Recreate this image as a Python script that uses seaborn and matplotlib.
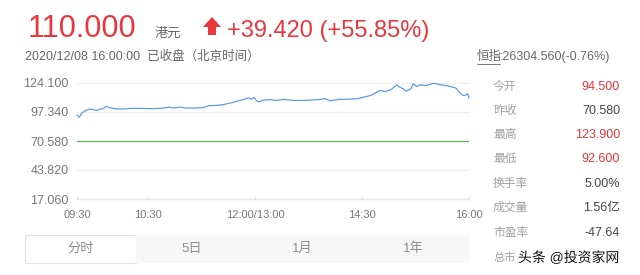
import matplotlib
matplotlib.use("Agg")
import matplotlib.pyplot as plt
import matplotlib.patheffects as pe
from matplotlib.patches import Rectangle, Polygon
import seaborn as sns
import pandas as pd

# ---------------- data ----------------
minutes = [0, 2, 4, 7, 10.5, 14, 17, 19.4, 22, 24.4, 27.8, 32, 39, 45, 53, 61, 70, 75, 78, 81,
           87, 91, 98, 106, 111, 118, 123, 129, 134, 140, 144, 147, 149, 151, 153, 157, 162,
           168, 174, 182, 193, 205, 209, 213, 221, 232, 236, 244, 248, 252, 255, 260, 265,
           269, 272, 275, 277, 281, 283, 286, 289, 294, 300, 305, 312, 319, 322, 325, 327,
           329, 330]
prices = [94.5, 92.6, 96.4, 98.6, 100.1, 99.5, 98.6, 100.1, 100.4, 102.5, 101.3, 100.4, 100.1,
          100.7, 100.7, 100.4, 100.7, 101.3, 101.9, 101.0, 101.9, 101.0, 101.0, 101.3, 103.1,
          103.5, 104.1, 105.6, 107.1, 108.7, 110.5, 109.3, 110.8, 108.0, 106.8, 108.3, 108.7,
          108.0, 109.0, 108.0, 108.0, 109.0, 109.6, 107.7, 109.0, 109.3, 109.6, 111.7, 112.9,
          115.4, 117.2, 116.3, 118.4, 122.4, 120.2, 118.4, 116.6, 118.7, 123.3, 120.9, 122.4,
          121.8, 123.9, 122.7, 121.5, 119.4, 115.4, 112.6, 112.9, 114.2, 110.0]
prev_close = 70.58
y_ticks = [17.06, 43.82, 70.58, 97.34, 124.10]
y_labels = ["17.060", "43.820", "70.580", "97.340", "124.100"]
x_ticks = [0, 60, 150, 240, 330]
x_labels = ["09:30", "10:30", "12:00/13:00", "14:30", "16:00"]

stat_names = ["今开", "昨收", "最高", "最低", "换手率", "成交量", "市盈率", "总市"]
stat_values = ["94.500", "70.580", "123.900", "92.600", "5.00%", "1.56亿", "-47.64", ""]
stat_red = [True, False, True, True, False, False, False, False]
tabs = ["分时", "5日", "1月", "1年"]

price_text = "110.000"
change_text = "+39.420 (+55.85%)"
time_text = "2020/12/08 16:00:00  已收盘（北京时间）"
index_label = "恒指"
index_text = ":26304.560(-0.76%)"
watermark = "头条 @投资家网"

# ---------------- style ----------------
sns.set_style("white")
FONT = ["Liberation Sans", "Noto Sans CJK SC", "DejaVu Sans"]
plt.rcParams["font.family"] = FONT

RED = "#e8363d"
GRAY = "#666666"
AXGRAY = "#777777"
LGRAY = "#a0a0a0"
W, H = 640, 275

fig = plt.figure(figsize=(6.4, 2.75), dpi=100)
fig.patch.set_facecolor("white")

def fx(px):
    return px / W

def fy(py):
    return 1 - py / H

# ---------------- chart ----------------
ax = fig.add_axes([fx(77), fy(199), 392 / W, 116 / H])
df = pd.DataFrame({"minute": minutes, "price": prices})
sns.lineplot(data=df, x="minute", y="price", ax=ax, color="#5c9de2", linewidth=0.9)
for l in ax.lines:
    l.set_clip_on(False)
ax.set_xlim(0, 330)
ax.set_ylim(y_ticks[0], y_ticks[-1])
for v in y_ticks:
    if v == prev_close:
        continue
    ax.axhline(v, color="#eeeeee", linewidth=0.9, zorder=0, clip_on=False)
ax.axhline(prev_close, color="#6cb36c", linewidth=1.0, zorder=1)
ax.axhline(y_ticks[0], color="#e6e6e6", linewidth=1.0, zorder=1, clip_on=False)
ax.set_yticks(y_ticks)
ax.set_yticklabels(y_labels, fontsize=9, color=AXGRAY)
ax.set_xticks(x_ticks)
ax.set_xticklabels(x_labels, fontsize=8, color=AXGRAY)
ax.tick_params(axis="y", length=0, pad=6)
ax.tick_params(axis="x", length=0, pad=8)
for s in ax.spines.values():
    s.set_visible(False)
ax.set_xlabel("")
ax.set_ylabel("")
ax.grid(False)
# small tick marks on bottom axis
for t in x_ticks:
    ax.plot([t, t], [y_ticks[0], y_ticks[0] + 1.8], color="#e0e0e0", linewidth=0.8, clip_on=False)

# ---------------- header ----------------
fig.text(fx(28), fy(37), price_text, fontsize=22, color=RED, va="baseline", ha="left")
fig.text(fx(155), fy(37), "港元", fontsize=9.5, color=GRAY, va="baseline", ha="left")
arrow = Polygon([(fx(212), fy(17)), (fx(203), fy(27)), (fx(208), fy(27)), (fx(208), fy(35)),
                 (fx(216), fy(35)), (fx(216), fy(27)), (fx(221), fy(27))],
                closed=True, transform=fig.transFigure, color=RED, lw=0)
fig.patches.append(arrow)
fig.text(fx(227), fy(37), change_text, fontsize=17, color=RED, va="baseline", ha="left")
fig.text(fx(25), fy(57), time_text, fontsize=9, color=GRAY, va="center", ha="left")

fig.text(fx(477), fy(57), index_label, fontsize=9, color=GRAY, va="center", ha="left")
fig.text(fx(500), fy(57), index_text, fontsize=9, color=GRAY, va="center", ha="left")
fig.add_artist(plt.Line2D([fx(477), fx(500)], [fy(64), fy(64)], color=GRAY, lw=0.6,
                          transform=fig.transFigure))

# ---------------- stats panel ----------------
rows_y = [87, 111, 135, 159, 184, 208, 233, 258]
for name, val, red, ry in zip(stat_names, stat_values, stat_red, rows_y):
    fig.text(fx(493), fy(ry), name, fontsize=8.5 if name != "总市" else 8, color=LGRAY,
             va="center", ha="left")
    if val:
        fig.text(fx(620), fy(ry), val, fontsize=9, color=RED if red else "#444444",
                 va="center", ha="right")

fig.text(fx(518), fy(258), watermark, fontsize=10, color="#111111", va="center", ha="left",
         path_effects=[pe.withStroke(linewidth=2.5, foreground="white")])

# ---------------- tabs ----------------
edges = [25, 136, 247, 358, 469]
for i, tab in enumerate(tabs):
    x0, x1 = edges[i], edges[i + 1]
    if i == 0:
        rect = Rectangle((fx(x0), fy(263)), (x1 - x0) / W, 28 / H, transform=fig.transFigure,
                         facecolor="white", edgecolor="#e2e2e2", lw=0.8)
    else:
        rect = Rectangle((fx(x0), fy(263)), (x1 - x0) / W, 28 / H, transform=fig.transFigure,
                         facecolor="#f7f7f7", edgecolor="none", lw=0)
    fig.patches.append(rect)
    fig.text(fx((x0 + x1) / 2), fy(249), tab, fontsize=9.5, color="#8c8c8c",
             va="center", ha="center")

fig.savefig("out.png", dpi=100, facecolor="white")
